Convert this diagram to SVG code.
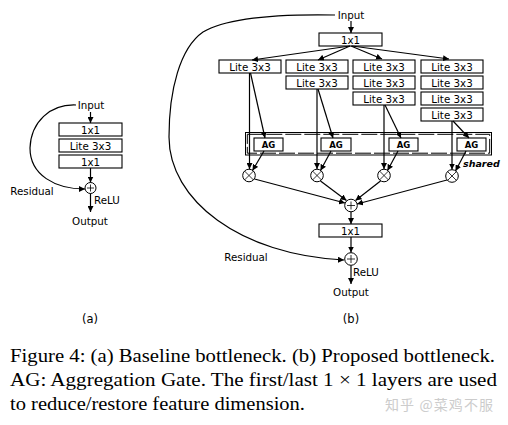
<svg xmlns="http://www.w3.org/2000/svg" width="508" height="425" viewBox="0 0 508 425">
<style>
.bx{fill:#fff;stroke:#000;stroke-width:1.1}
.t{font-family:"DejaVu Sans",Verdana,sans-serif;font-size:10.3px;fill:#000;text-anchor:middle}
.ag{font-family:"DejaVu Sans",Verdana,sans-serif;font-size:8.5px;font-weight:bold;fill:#000;text-anchor:middle}
.ln{fill:none;stroke:#000;stroke-width:1.2}
.ar{fill:none;stroke:#000;stroke-width:1.2;marker-end:url(#ah)}
.op{fill:#fff;stroke:#000;stroke-width:1}
.cap{font-family:"Liberation Serif","Times New Roman",serif;font-size:18px;fill:#000}
.sub{font-family:"DejaVu Sans",Verdana,sans-serif;font-size:11.5px;fill:#000;text-anchor:middle}
</style>
<defs>
<marker id="ah" viewBox="0 0 10 10" refX="10" refY="5" markerWidth="6" markerHeight="6" markerUnits="userSpaceOnUse" orient="auto">
<path d="M0,0 L10,5 L0,10 z" fill="#000"/>
</marker>
</defs>
<rect width="508" height="425" fill="#fff"/>

<!-- (a) baseline -->
<g id="a-input"><text class="t" x="91" y="109">Input</text></g>
<g id="a-1x1-top"><rect class="bx" x="59" y="123" width="63" height="13"/><text class="t" x="90.5" y="133.5">1x1</text></g>
<g id="a-lite"><rect class="bx" x="59" y="139" width="63" height="13"/><text class="t" x="90.5" y="149.5">Lite 3x3</text></g>
<g id="a-1x1-bot"><rect class="bx" x="59" y="155" width="63" height="13"/><text class="t" x="90.5" y="165.5">1x1</text></g>
<g id="a-sum"><circle class="op" cx="90.5" cy="188" r="5.5"/><path d="M87,188 H94 M90.5,184.5 V191.5" stroke="#000" stroke-width="0.8"/></g>
<g id="a-labels">
<text class="t" x="32" y="195">Residual</text>
<text class="t" x="107" y="204">ReLU</text>
<text class="t" x="90" y="225">Output</text>
<text class="sub" x="90" y="323">(a)</text>
</g>
<g id="a-connectors">
<path class="ar" d="M90.5,112 V123"/>
<path class="ar" d="M90.5,168 V182.5"/>
<path class="ar" d="M90.5,193.5 V212"/>
<path class="ar" d="M76,105 C50,104 31,122 30,148 C30,175 55,189 85,189"/>
</g>

<!-- (b) proposed -->
<g id="b-input"><text class="t" x="351" y="19">Input</text></g>
<g id="b-1x1-top"><rect class="bx" x="319" y="33" width="63" height="13"/><text class="t" x="350.5" y="43.5">1x1</text></g>
<g id="b-col1">
<rect class="bx" x="219" y="60" width="62" height="13"/><text class="t" x="250" y="70.5">Lite 3x3</text>
</g>
<g id="b-col2">
<rect class="bx" x="286" y="60" width="62" height="13"/><text class="t" x="317" y="70.5">Lite 3x3</text>
<rect class="bx" x="286" y="76" width="62" height="13"/><text class="t" x="317" y="86.5">Lite 3x3</text>
</g>
<g id="b-col3">
<rect class="bx" x="353" y="60" width="62" height="13"/><text class="t" x="384" y="70.5">Lite 3x3</text>
<rect class="bx" x="353" y="76" width="62" height="13"/><text class="t" x="384" y="86.5">Lite 3x3</text>
<rect class="bx" x="353" y="92" width="62" height="13"/><text class="t" x="384" y="102.5">Lite 3x3</text>
</g>
<g id="b-col4">
<rect class="bx" x="421" y="60" width="62" height="13"/><text class="t" x="452" y="70.5">Lite 3x3</text>
<rect class="bx" x="421" y="76" width="62" height="13"/><text class="t" x="452" y="86.5">Lite 3x3</text>
<rect class="bx" x="421" y="92" width="62" height="13"/><text class="t" x="452" y="102.5">Lite 3x3</text>
<rect class="bx" x="421" y="108" width="62" height="13"/><text class="t" x="452" y="118.5">Lite 3x3</text>
</g>
<g id="b-shared-box">
<rect x="245.5" y="132.5" width="246" height="22.5" fill="none" stroke="#000" stroke-width="1"/>
<rect x="247.3" y="134.3" width="242.4" height="18.9" fill="none" stroke="#000" stroke-width="1" stroke-dasharray="16 3"/>
</g>
<g id="b-ag1"><rect class="bx" x="254" y="138" width="29" height="13"/><text class="ag" x="268.5" y="148">AG</text></g>
<g id="b-ag2"><rect class="bx" x="321" y="138" width="30" height="13"/><text class="ag" x="336" y="148">AG</text></g>
<g id="b-ag3"><rect class="bx" x="389" y="138" width="29" height="13"/><text class="ag" x="403.5" y="148">AG</text></g>
<g id="b-ag4"><rect class="bx" x="457" y="138" width="29" height="13"/><text class="ag" x="471.5" y="148">AG</text></g>
<g id="b-shared-label"><text x="463" y="167" font-family="DejaVu Sans,Verdana,sans-serif" font-size="9.5" font-weight="bold" font-style="italic">shared</text></g>
<g id="b-mul1"><circle class="op" cx="249" cy="175.5" r="6.3"/><path d="M244.5,171 L253.5,180 M253.5,171 L244.5,180" stroke="#000" stroke-width="0.8"/></g>
<g id="b-mul2"><circle class="op" cx="317" cy="175.5" r="6.3"/><path d="M312.5,171 L321.5,180 M321.5,171 L312.5,180" stroke="#000" stroke-width="0.8"/></g>
<g id="b-mul3"><circle class="op" cx="384" cy="175.5" r="6.3"/><path d="M379.5,171 L388.5,180 M388.5,171 L379.5,180" stroke="#000" stroke-width="0.8"/></g>
<g id="b-mul4"><circle class="op" cx="452" cy="176" r="6.3"/><path d="M447.5,171.5 L456.5,180.5 M456.5,171.5 L447.5,180.5" stroke="#000" stroke-width="0.8"/></g>
<g id="b-sum1"><circle class="op" cx="351" cy="205.5" r="6.3"/><path d="M347,205.5 H355 M351,201.5 V209.5" stroke="#000" stroke-width="0.8"/></g>
<g id="b-1x1-bot"><rect class="bx" x="319" y="224" width="63" height="13"/><text class="t" x="350.5" y="234.5">1x1</text></g>
<g id="b-sum2"><circle class="op" cx="351" cy="259" r="6.3"/><path d="M347,259 H355 M351,255 V263" stroke="#000" stroke-width="0.8"/></g>
<g id="b-labels">
<text class="t" x="246" y="261">Residual</text>
<text class="t" x="366" y="276">ReLU</text>
<text class="t" x="351" y="296">Output</text>
<text class="sub" x="351" y="323">(b)</text>
</g>
<g id="b-connectors">
<path class="ar" d="M351,21 V33"/>
<path class="ar" d="M350,46 L252,60"/>
<path class="ar" d="M350,46 L318,60"/>
<path class="ar" d="M351,46 L382,59"/>
<path class="ar" d="M352,46 L449,59"/>
<path class="ar" d="M249.5,73 V169"/>
<path class="ar" d="M250.5,73 L265,138"/>
<path class="ar" d="M317,89 V169"/>
<path class="ar" d="M318,89 L333,138"/>
<path class="ar" d="M384,105 V169"/>
<path class="ar" d="M385,105 L401,138"/>
<path class="ar" d="M452,121 V169.5"/>
<path class="ar" d="M453,121 L469,138"/>
<path class="ar" d="M264,151 L252.5,170.5"/>
<path class="ar" d="M331,151 L320.5,170.5"/>
<path class="ar" d="M398,151 L387.5,170.5"/>
<path class="ar" d="M466,151 L455.5,171"/>
<path class="ar" d="M254.5,179 L345,203"/>
<path class="ar" d="M320.5,181 L346.5,200.5"/>
<path class="ar" d="M380.5,181 L355.5,200.5"/>
<path class="ar" d="M447,180 L357,204"/>
<path class="ar" d="M351,212 V224"/>
<path class="ar" d="M351,237 V252.5"/>
<path class="ar" d="M351,265.5 V284"/>
<path class="ar" d="M335,15 C280,14 228,17 203,32 C180,48 169,90 169,137 C169,200 240,255 344,260"/>
</g>

<!-- caption -->
<g id="caption">
<text class="cap" x="10" y="362" textLength="485" lengthAdjust="spacingAndGlyphs">Figure 4: (a) Baseline bottleneck. (b) Proposed bottleneck.</text>
<text class="cap" x="10" y="386" textLength="487" lengthAdjust="spacingAndGlyphs">AG: Aggregation Gate. The first/last 1 × 1 layers are used</text>
<text class="cap" x="10" y="410" textLength="295" lengthAdjust="spacingAndGlyphs">to reduce/restore feature dimension.</text>
<text x="385" y="410" font-family="'Noto Sans CJK SC',sans-serif" font-size="14" fill="#cccccc" textLength="108">知乎 @菜鸡不服</text>
</g>
</svg>
